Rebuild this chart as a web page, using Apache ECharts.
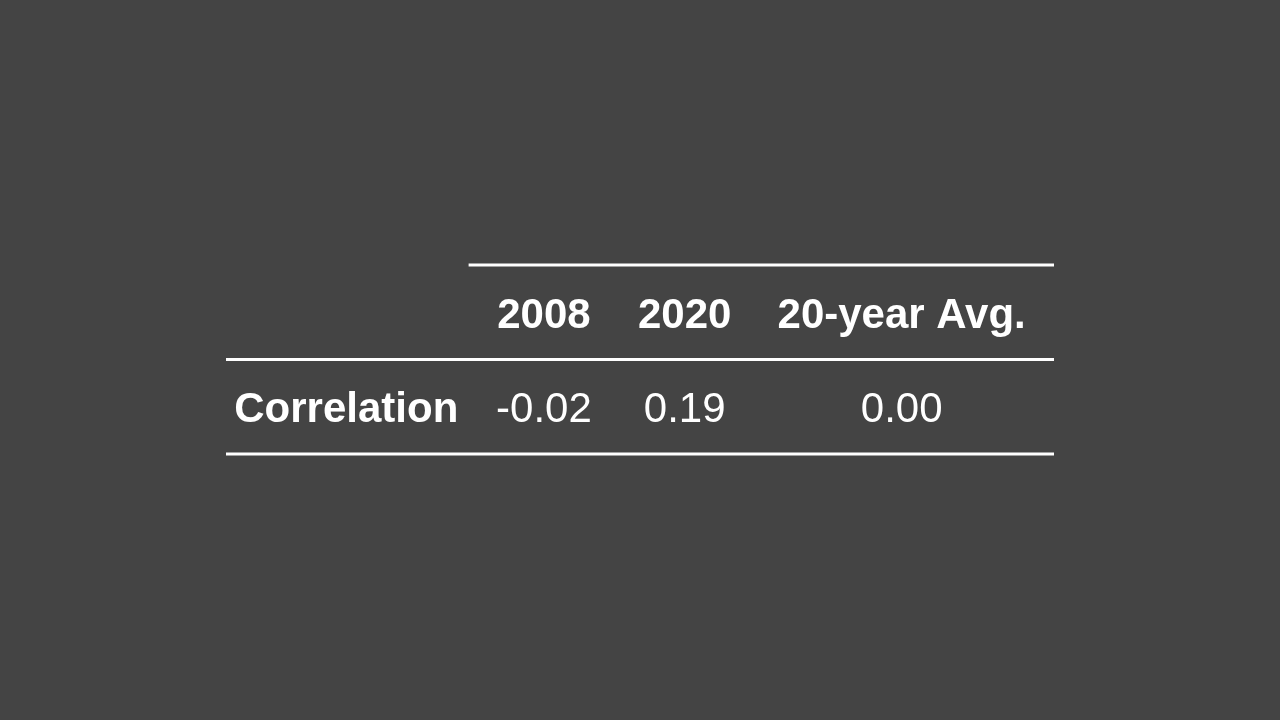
<!DOCTYPE html>
<html>

<head>
	<meta charset="utf-8">
	<title>Correlation</title>
	<style>
		html, body { margin: 0; padding: 0; background: #444444; }
		#main { width: 1280px; height: 720px; }
	</style>
</head>

<body>
	<div id="main"></div>

	<script src="https://cdn.jsdelivr.net/npm/echarts@6/dist/echarts.min.js" charset="utf-8"></script>
	<script>
		// table data
		var columns = ['2008', '2020', '20-year Avg.'];
		var rowLabels = ['Correlation'];
		var correlation = [-0.02, 0.19, 0.00];

		// layout (fraction of the table width)
		var colCenters = [0.384, 0.554, 0.816];
		var labelX = 0.01;
		var topRuleStart = 0.293;
		var textShift = 4;

		var rows = ['header'].concat(rowLabels);

		// cells: [x, rowIndex], text and style kept next to it
		var cells = [];
		var cellText = [];
		var cellStyle = [];
		columns.forEach(function (c, i) {
			cells.push([colCenters[i], 0]);
			cellText.push(c);
			cellStyle.push({ weight: 'bold', align: 'center' });
		});
		cells.push([labelX, 1]);
		cellText.push(rowLabels[0]);
		cellStyle.push({ weight: 'bold', align: 'left' });
		correlation.forEach(function (v, i) {
			cells.push([colCenters[i], 1]);
			cellText.push(v.toFixed(2));
			cellStyle.push({ weight: 'normal', align: 'center' });
		});

		// rules: [x0, x1, rowIndex, side(-1 top / +1 bottom)]
		var rules = [
			[topRuleStart, 1, 0, -1],
			[0, 1, 0, 1],
			[0, 1, 1, 1]
		];

		var chart = echarts.init(document.getElementById('main'));
		chart.setOption({
			backgroundColor: '#444444',
			animation: false,
			grid: { left: 226, right: 226, top: 265, bottom: 266 },
			xAxis: { type: 'value', min: 0, max: 1, show: false },
			yAxis: { type: 'category', data: rows, inverse: true, show: false },
			series: [
				{
					type: 'custom',
					data: rules,
					silent: true,
					renderItem: function (params, api) {
						var a = api.coord([api.value(0), api.value(2)]);
						var b = api.coord([api.value(1), api.value(2)]);
						var half = api.size([0, 1])[1] / 2;
						var y = a[1] + api.value(3) * half;
						return {
							type: 'line',
							shape: { x1: a[0], y1: y, x2: b[0], y2: y },
							style: { stroke: '#ffffff', lineWidth: 3 }
						};
					}
				},
				{
					type: 'custom',
					data: cells,
					silent: true,
					renderItem: function (params, api) {
						var p = api.coord([api.value(0), api.value(1)]);
						var s = cellStyle[params.dataIndex];
						return {
							type: 'text',
							x: p[0],
							y: p[1] + textShift,
							style: {
								text: cellText[params.dataIndex],
								fill: '#ffffff',
								fontFamily: 'Liberation Sans, Arial, sans-serif',
								fontSize: 42,
								fontWeight: s.weight,
								align: s.align,
								verticalAlign: 'middle'
							}
						};
					}
				}
			]
		});
	</script>
</body>

</html>
